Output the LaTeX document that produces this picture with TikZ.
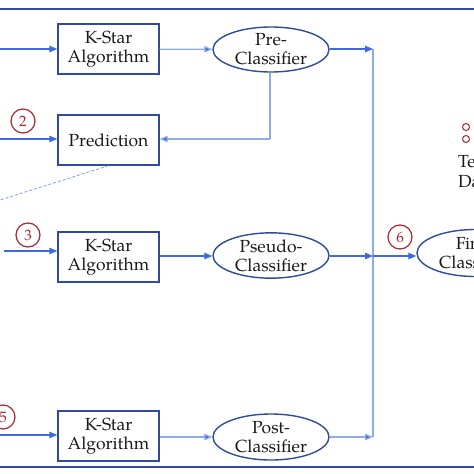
\documentclass[tikz,border=0pt]{standalone}
\usepackage{fontspec}
\setmainfont{TeX Gyre Pagella}
\usetikzlibrary{arrows.meta,shapes.geometric}
\definecolor{boxblue}{HTML}{2F4A9E}
\definecolor{arrblue}{HTML}{3E6AE0}
\definecolor{lightarr}{HTML}{8FAAEC}
\definecolor{numred}{HTML}{B02330}
\definecolor{txt}{HTML}{1A1A1A}
\tikzset{
  boxnode/.style={draw=boxblue,line width=1.4pt,rectangle,minimum width=101pt,minimum height=50pt,
    align=center,inner sep=0pt,text=txt,font=\fontsize{17.5}{19}\selectfont},
  ellnode/.style={draw=boxblue,line width=1.4pt,ellipse,minimum width=116pt,minimum height=45pt,
    align=center,inner sep=0pt,text=txt,font=\fontsize{17.5}{19}\selectfont},
  arr/.style={draw=arrblue,line width=1.2pt,-{Triangle[length=8pt,width=6.5pt]}},
  larr/.style={draw=lightarr,line width=1.2pt,-{Triangle[length=8pt,width=6.5pt,fill=arrblue]}},
  lline/.style={draw=lightarr,line width=1.4pt},
  numc/.style={draw=numred,line width=1.2pt,circle,minimum size=24pt,inner sep=0pt,
    text=numred,font=\fontsize{15}{15}\selectfont},
  dotc/.style={draw=numred,line width=1pt,circle,minimum size=7pt,inner sep=0pt},
  border/.style={draw=boxblue,line width=1.6pt}
}
\begin{document}
\begin{tikzpicture}[x=1pt,y=-1pt]
\useasboundingbox (0,0) rectangle (474,474);
\clip (0,0) rectangle (474,474);
\fill[white] (0,0) rectangle (474,474);
% frame lines
\coordinate (tl) at (-5,9); \coordinate (tr) at (480,9);
\coordinate (bl) at (-5,467); \coordinate (br) at (480,467);
\draw[border] (tl) -- (tr);
\draw[border] (bl) -- (br);
% nodes
\node[boxnode] (ks1) at (108.5,49) {K-Star\\Algorithm};
\node[boxnode] (pred) at (108.5,140) {Prediction};
\node[boxnode] (ks2) at (108.5,257) {K-Star\\Algorithm};
\node[boxnode] (ks3) at (108.5,436) {K-Star\\Algorithm};
\node[ellnode] (pre) at (271,49.5) {Pre-\\Classifier};
\node[ellnode] (pseudo) at (271,255.5) {Pseudo-\\Classifier};
\node[ellnode,minimum height=46pt] (post) at (271,437) {Post-\\Classifier};
\node[ellnode,minimum height=47pt] (final) at (475,253) {Final\\Classifier};
% numbers
\node[numc] (n2) at (23,121) {2};
\node[numc] (n3) at (28,235) {3};
\node[numc] (n5) at (3,417) {5};
\node[numc] (n6) at (400,237) {6};
% test data
\node[dotc] (d1) at (466,127) {};
\node[dotc] (d2) at (466,139) {};
\node[anchor=north west,align=left,inner sep=0pt,text=txt,font=\fontsize{17.5}{20}\selectfont] (td) at (458,155) {Test\\Data};
% coordinates
\coordinate (i1) at (0,49);
\coordinate (i2) at (0,139);
\coordinate (i3) at (4,251);
\coordinate (i5) at (0,435);
\coordinate (j1) at (373,49);
\coordinate (j2) at (373,256);
\coordinate (j3) at (373,437);
\coordinate (pc) at (270,139);
\coordinate (dash) at (0,200);
% connectors
\draw[arr] (i1) -- (ks1.west |- i1);
\draw[larr] (ks1) -- (pre);
\draw[lline] (j1) -- (j3);
\draw[arr] (pre.east |- j1) -- (j1);
\draw[lline] (pre.south -| pc) -- (pc);
\draw[larr] (pc) -- (pred.east |- pc);
\draw[arr] (i2) -- (pred.west |- i2);
\draw[draw=lightarr!80!arrblue,line width=0.8pt,dash pattern=on 3pt off 2pt] (pred.south) -- (dash);
\draw[arr] (i3) -- (ks2.west |- i3);
\draw[arr] (ks2.east |- j2) -- (pseudo.west |- j2);
\draw[arr] (pseudo.east |- j2) -- (j2);
\draw[arr] (j2) -- (final.west |- j2);
\draw[arr] (i5) -- (ks3.west |- i5);
\draw[larr] (ks3.east |- j3) -- (post.west |- j3);
\draw[larr] (post.east |- j3) -- (j3);
\end{tikzpicture}
\end{document}
